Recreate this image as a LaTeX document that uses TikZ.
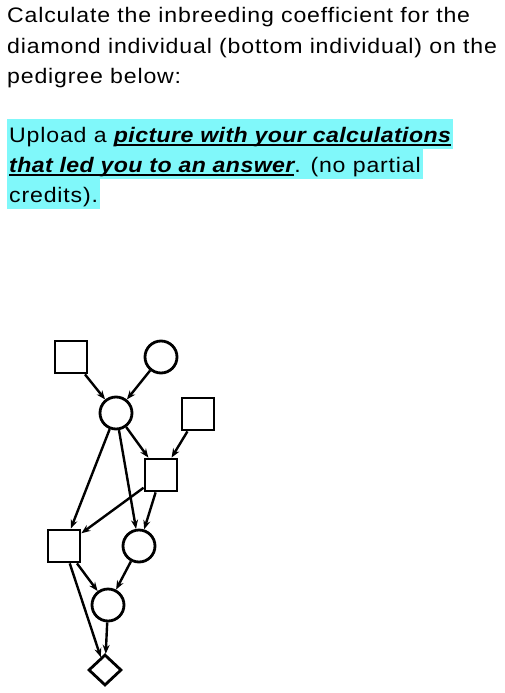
\documentclass[tikz,border=0pt]{standalone}
\usepackage{fontspec}
\setmainfont[FakeStretch=1.1,LetterSpace=4]{Liberation Sans}
\usetikzlibrary{shapes,arrows.meta,positioning}
\definecolor{hlcyan}{RGB}{128,248,250}
\newcommand{\ulbi}[1]{\setbox0\hbox{\bfseries\itshape\addfontfeatures{LetterSpace=2}#1}\rlap{\rule[-3.5pt]{\wd0}{1.8pt}}\box0}
\tikzstyle{textline}=[anchor=base west,inner sep=0pt,font=\fontsize{21}{30}\selectfont]
\tikzstyle{hiline}=[textline,fill=hlcyan,inner xsep=2pt,text height=23pt,text depth=7pt]
\tikzstyle{male}=[rectangle,draw=black,line width=2.8pt,minimum size=32pt,inner sep=0pt]
\tikzstyle{female}=[circle,draw=black,line width=2.8pt,minimum size=32pt,inner sep=0pt]
\tikzstyle{unknown}=[diamond,draw=black,line width=2.8pt,minimum width=33pt,minimum height=31pt,inner sep=0pt]
\tikzstyle{link}=[->,line width=2.4pt]

\begin{document}
\begin{tikzpicture}[>={Stealth[length=9pt,width=7pt]}, x=1pt, y=-1pt]
    \useasboundingbox (0,0) rectangle (504,693);

    % question text
    \node[textline] (line1) at (7,23) {Calculate the inbreeding coefficient for the};
    \node[textline] (line2) at (7,54) {diamond individual (bottom individual) on the};
    \node[textline] (line3) at (7,83) {pedigree below:};
    \node[hiline] (line4) at (7,142) {Upload a \ulbi{picture with your calculations}};
    \node[hiline] (line5) at (7,172) {\ulbi{that led you to an answer}. (no partial};
    \node[hiline] (line6) at (7,202) {credits).};

    % pedigree
    \node[male] (gpa) at (71,357) {};
    \node[female] (gma) at (161,357) {};
    \node[female] (mom) at (116,413) {};
    \node[male] (sire) at (198,414) {};
    \node[male] (son) at (161,475) {};
    \node[male] (dad) at (64,546) {};
    \node[female] (dau) at (139,546) {};
    \node[female] (mate) at (108,605) {};
    \node[unknown] (target) at (105,670) {};

    \draw[link] (gpa) -- (mom);
    \draw[link] (gma) -- (mom);
    \draw[link] (sire) -- (son);
    \draw[link] (mom) -- (son);
    \draw[link] (mom) -- (dad);
    \draw[link] (mom) -- (dau);
    \draw[link] (son) -- (dad);
    \draw[link] (son) -- (dau);
    \draw[link] (dad) -- (mate);
    \draw[link] (dau) -- (mate);
    \draw[link] (dad) -- (target);
    \draw[link] (mate) -- (target);
\end{tikzpicture}
\end{document}
